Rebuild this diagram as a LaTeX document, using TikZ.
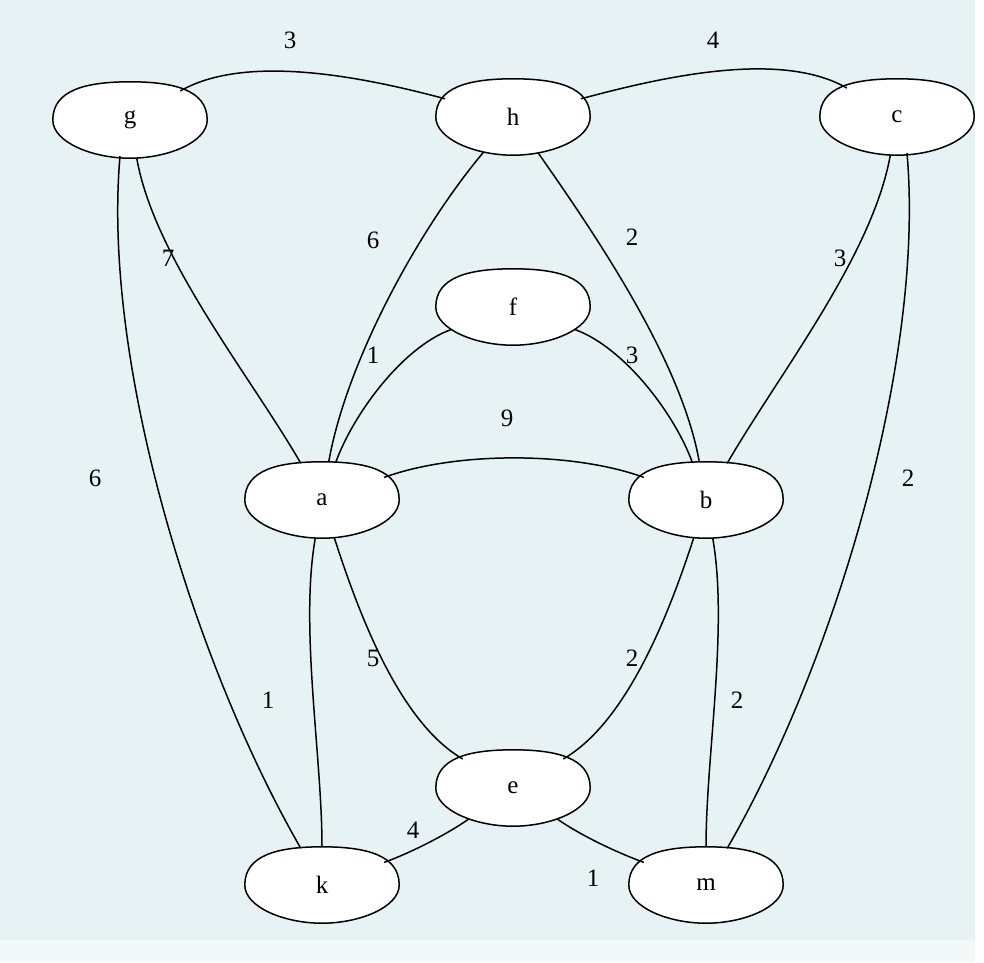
\documentclass[tikz,border=0pt]{standalone}
\usepackage{fontspec}
\setmainfont{Liberation Serif}
\usetikzlibrary{shapes.geometric}
\begin{document}
\begin{tikzpicture}[x=1pt,y=1pt,
  eggnode/.style={ellipse,minimum width=154pt,minimum height=76pt,inner sep=0pt,font=\fontsize{25}{29}\selectfont},
  wlabel/.style={font=\fontsize{25}{29}\selectfont,inner sep=1pt},
  conn/.style={line width=1.5pt,looseness=0.75}]
\definecolor{bgc}{HTML}{E6F2F3}
\useasboundingbox (0,0) rectangle (984,-962);
\fill[white] (0,0) rectangle (984,-962);
\fill[bgc] (0,0) rectangle (975,-940);
\fill[bgc!50!white] (0,-940) rectangle (975,-962);
\def\egg#1#2#3#4{%
  \node[eggnode] (#1) at (#2,-#3) {};
  \draw[line width=1.5pt,fill=white] (#1.west) .. controls +(0,30) and +(-44,0) .. (#1.north)
    .. controls +(44,0) and +(0,30) .. (#1.east)
    .. controls +(0,-22) and +(38,0) .. (#1.south)
    .. controls +(-38,0) and +(0,-22) .. (#1.west);
  \node[eggnode] at (#1) {#4};}
\egg{g}{130}{120}{g}
\egg{h}{513}{117}{h}
\egg{c}{897}{117}{c}
\egg{f}{513}{307}{f}
\egg{a}{322}{500}{a}
\egg{b}{706}{500}{b}
\egg{e}{513}{788}{e}
\egg{k}{322}{885}{k}
\egg{m}{706}{885}{m}
\draw[conn] (g) to[out=30,in=165] (h);
\draw[conn] (h) to[out=15,in=150] (c);
\draw[conn] (g) to[out=-80,in=120] (a);
\path (g.south) ++(-10,2) coordinate (g1);
\draw[conn] (g1) to[out=-95,in=120] (k);
\draw[conn] (h) to[out=-130,in=80] (a);
\draw[conn] (h) to[out=-55,in=100] (b);
\draw[conn] (c) to[out=-100,in=60] (b);
\path (c.south) ++(10,2) coordinate (c1);
\draw[conn] (c1) to[out=-85,in=60] (m);
\draw[conn] (f) to[out=-160,in=70] (a);
\draw[conn] (f) to[out=-20,in=110] (b);
\draw[conn] (a) to[out=20,in=160] (b);
\draw[conn] (a) to[out=-100,in=90] (k);
\draw[conn] (a) to[out=-72,in=150] (e);
\draw[conn] (b) to[out=-108,in=30] (e);
\draw[conn] (b) to[out=-80,in=90] (m);
\draw[conn] (e) to[out=-145,in=20] (k);
\draw[conn] (e) to[out=-35,in=160] (m);
\node[wlabel] (l1) at (290,-40) {3};
\node[wlabel] (l2) at (713,-40) {4};
\node[wlabel] (l3) at (168,-258) {7};
\node[wlabel] (l4) at (95,-478) {6};
\node[wlabel] (l5) at (373,-240) {6};
\node[wlabel] (l6) at (632,-237) {2};
\node[wlabel] (l7) at (840,-258) {3};
\node[wlabel] (l8) at (908,-478) {2};
\node[wlabel] (l9) at (373,-355) {1};
\node[wlabel] (l10) at (632,-355) {3};
\node[wlabel] (l11) at (507,-418) {9};
\node[wlabel] (l12) at (268,-700) {1};
\node[wlabel] (l13) at (373,-658) {5};
\node[wlabel] (l14) at (632,-658) {2};
\node[wlabel] (l15) at (737,-700) {2};
\node[wlabel] (l16) at (413,-830) {4};
\node[wlabel] (l17) at (593,-878) {1};
\end{tikzpicture}
\end{document}
